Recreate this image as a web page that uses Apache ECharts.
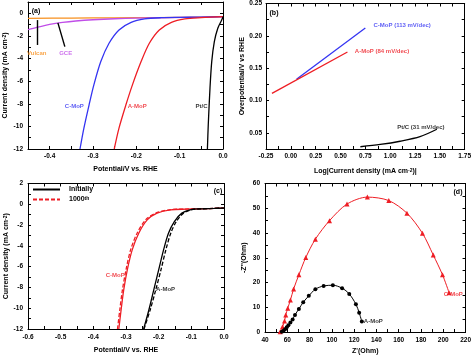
<!DOCTYPE html>
<html><head><meta charset="utf-8">
<script src="https://cdn.jsdelivr.net/npm/echarts@6/dist/echarts.min.js"></script>
<style>html,body{margin:0;padding:0;background:#fff}#c{width:474px;height:356px}</style>
</head><body><div id="c"></div>
<script>
// ===== Data =====
// Panel (a): polarization curves, potential (V vs RHE) vs current density (mA cm^-2)
const aVulcanX = [-0.45,-0.35,-0.25,-0.15,-0.05,0];
const aVulcanY = [-0.45,-0.42,-0.40,-0.38,-0.35,-0.30];
const aGceX = [-0.45,-0.43,-0.41,-0.39,-0.37,-0.34,-0.30,-0.25,-0.20,-0.12,-0.05,0];
const aGceY = [-1.45,-1.25,-1.07,-0.92,-0.80,-0.68,-0.57,-0.48,-0.43,-0.38,-0.35,-0.30];
const aCMoPX = [-0.330,-0.321,-0.309,-0.298,-0.282,-0.263,-0.240,-0.212,-0.181,-0.143,-0.10,-0.05,0];
const aCMoPY = [-12,-10.15,-8.09,-6.33,-4.27,-2.65,-1.47,-0.80,-0.50,-0.39,-0.36,-0.34,-0.30];
const aAMoPX = [-0.251,-0.240,-0.224,-0.209,-0.189,-0.170,-0.147,-0.119,-0.088,-0.050,0];
const aAMoPY = [-12,-10.15,-8.09,-6.33,-4.27,-2.65,-1.47,-0.80,-0.50,-0.39,-0.30];
const aPtCX = [-0.036,-0.034,-0.030,-0.026,-0.020,-0.012,-0.003,0];
const aPtCY = [-12,-9.86,-6.6,-4.27,-2.5,-1.32,-0.59,-0.30];

// Panel (b): Tafel plots, log|j| vs overpotential (V)
const bCMoPX = [0.057,0.75];
const bCMoPY = [0.133,0.212];
const bAMoPX = [-0.19,0.57];
const bAMoPY = [0.111,0.175];
const bPtCX = [0.70,0.90,1.10,1.30,1.47];
const bPtCY = [0.0285,0.032,0.037,0.044,0.0555];

// Panel (c): stability, initial vs after 1000 cycles
const cCMoPInitX = [-0.322,-0.315,-0.307,-0.296,-0.281,-0.261,-0.235,-0.205,-0.164,-0.114,-0.073,-0.03,0];
const cCMoPInitY = [-12,-10.17,-8.24,-6.31,-4.39,-2.78,-1.50,-0.85,-0.53,-0.47,-0.44,-0.40,-0.36];
const cCMoP1000X = [-0.326,-0.319,-0.311,-0.300,-0.286,-0.266,-0.240,-0.209,-0.168,-0.118,-0.073,-0.03,0];
const cCMoP1000Y = [-12,-10.17,-8.24,-6.31,-4.39,-2.78,-1.50,-0.85,-0.53,-0.46,-0.43,-0.40,-0.36];
const cAMoPInitX = [-0.246,-0.230,-0.215,-0.200,-0.185,-0.170,-0.152,-0.129,-0.104,-0.073,-0.03,0];
const cAMoPInitY = [-12,-10.17,-8.24,-6.31,-4.39,-2.78,-1.66,-0.85,-0.53,-0.44,-0.40,-0.36];
const cAMoP1000X = [-0.245,-0.226,-0.209,-0.193,-0.178,-0.163,-0.146,-0.124,-0.100,-0.072,-0.03,0];
const cAMoP1000Y = [-12,-10.17,-8.24,-6.31,-4.39,-2.78,-1.66,-0.85,-0.53,-0.44,-0.40,-0.36];

// Panel (d): Nyquist plots, Z' vs -Z'' (Ohm)
const dCMoPX = [53.6,55.7,57.5,58.6,60.4,62.8,65.7,70.4,76.6,85.2,97.9,113.6,131.9,151.1,167.4,181.3,191.0,199.3,205.2];
const dCMoPY = [0.1,2.1,4.4,6.9,9.6,12.9,17.4,23.1,30.1,37.5,45.0,51.7,54.5,53.1,48.0,39.9,31.1,23.1,15.9];
const dAMoPX = [55.1,56.6,58.0,59.5,61.0,62.8,64.8,66.9,70.4,74.3,79.3,85.2,92.6,100.9,109.2,115.6,121.6,124.5,126.9];
const dAMoPY = [0.1,0.5,1.1,1.9,2.7,3.8,5.1,6.9,9.3,12.0,14.6,17.3,18.6,18.9,17.7,15.4,11.2,7.8,4.2];

// ===== Chart =====
const F = '"Liberation Sans", Arial, Helvetica, sans-serif';
const RED = '#ee1d24', BLUE = '#3434f2', ORANGE = '#f7901e', PURPLE = '#c04ee8', BLACK = '#000';
const zip = (xs, ys) => xs.map((x, i) => [x, ys[i]]);

function lab(step, digits) {
  return function (v) {
    const k = v / step;
    if (Math.abs(k - Math.round(k)) > 1e-6) return '';
    const r = Math.round(k) * step;
    return (Math.abs(r) < 1e-9 ? 0 : r).toFixed(digits);
  };
}
const RICH = { s: { fontSize: 5, fontWeight: 'bold', fontFamily: F, color: '#000', verticalAlign: 'top', lineHeight: 7 } };

function axisPair(dim, g, c) {
  const base = {
    type: 'value', gridIndex: g, min: c.min, max: c.max, interval: c.interval,
    axisLine: { show: true, onZero: false, lineStyle: { color: '#000', width: 1 } },
    axisTick: { show: true, inside: true, length: 3, lineStyle: { color: '#000', width: 1 } },
    splitLine: { show: false }, minorTick: { show: false }
  };
  const main = Object.assign({}, base, {
    position: dim === 'x' ? 'bottom' : 'left',
    axisLabel: { show: true, formatter: lab(c.step, c.digits), fontSize: 6.5, fontWeight: 'bold', fontFamily: F,
      color: '#000', margin: c.margin || 5, showMinLabel: true, showMaxLabel: true, hideOverlap: false },
    name: c.name, nameLocation: 'middle', nameGap: c.gap,
    nameTextStyle: { fontSize: 7, fontWeight: c.weight || 'bold', fontFamily: F, color: '#000', rich: RICH }
  });
  const mirror = Object.assign({}, base, { position: dim === 'x' ? 'top' : 'right', axisLabel: { show: false } });
  return [main, mirror];
}

const xAxis = [].concat(
  axisPair('x', 0, { min: -0.45, max: 0, interval: 0.05, step: 0.1, digits: 1, name: 'Potential/V vs. RHE', gap: 17, margin: 4 }),
  axisPair('x', 1, { min: -0.25, max: 1.75, interval: 0.125, step: 0.25, digits: 2, name: 'Log|Current density (mA cm{s|-2})|', gap: 19, margin: 4 }),
  axisPair('x', 2, { min: -0.6, max: 0, interval: 0.05, step: 0.1, digits: 1, name: 'Potential/V vs. RHE', gap: 18, margin: 5 }),
  axisPair('x', 3, { min: 40, max: 220, interval: 10, step: 20, digits: 0, name: "Z'(Ohm)", gap: 16, margin: 5 })
);
const yAxis = [].concat(
  axisPair('y', 0, { min: -12, max: 1, interval: 1, step: 2, digits: 0, name: '{n|Current density (mA cm}{s|-2}{n|)}', gap: 19, margin: 5 }),
  axisPair('y', 1, { min: 0.025, max: 0.25, interval: 0.025, step: 0.05, digits: 2, name: 'Overpotential/V vs RHE', gap: 20, margin: 4 }),
  axisPair('y', 2, { min: -12, max: 2, interval: 1, step: 2, digits: 0, name: '{n|Current density (mA cm}{s|-2}{n|)}', gap: 18, margin: 5 }),
  axisPair('y', 3, { min: 0, max: 60, interval: 5, step: 10, digits: 0, name: "-Z''(Ohm)", gap: 17, margin: 5 })
);
yAxis[0].nameTextStyle.rich = Object.assign({ n: { fontSize: 7, fontWeight: 'bold', fontFamily: F, color: '#000' } }, RICH);
yAxis[4].nameTextStyle.rich = Object.assign({ n: { fontSize: 7, fontWeight: 'bold', fontFamily: F, color: '#000' } }, RICH);

function line(g, name, xs, ys, color, extra) {
  return Object.assign({
    type: 'line', name, xAxisIndex: 2 * g, yAxisIndex: 2 * g, data: zip(xs, ys),
    symbol: 'none', showSymbol: false, smooth: 0.3, silent: true, z: 3,
    lineStyle: { color, width: 1.3, type: 'solid' }, itemStyle: { color }
  }, extra || {});
}
function txt(g, x, y, text, color, pos, size) {
  return {
    type: 'scatter', xAxisIndex: 2 * g, yAxisIndex: 2 * g, data: [[x, y]], symbolSize: 0, silent: true, z: 5,
    label: { show: true, formatter: text, position: pos || 'inside', distance: 0, color,
      fontSize: size || 6, fontWeight: 'bold', fontFamily: F }
  };
}
function arrow(g, x1, y1, x2, y2) {
  return {
    type: 'line', xAxisIndex: 2 * g, yAxisIndex: 2 * g, data: [], silent: true,
    markLine: { silent: true, symbol: ['none', 'arrow'], symbolSize: [0, 6], animation: false,
      label: { show: false }, lineStyle: { color: '#000', width: 1.4, type: 'solid' },
      data: [[{ coord: [x1, y1] }, { coord: [x2, y2] }]] }
  };
}

const series = [
  // (a)
  line(0, 'Vulcan', aVulcanX, aVulcanY, ORANGE),
  line(0, 'GCE', aGceX, aGceY, PURPLE),
  line(0, 'C-MoP a', aCMoPX, aCMoPY, BLUE),
  line(0, 'A-MoP a', aAMoPX, aAMoPY, RED),
  line(0, 'Pt/C a', aPtCX, aPtCY, BLACK),
  arrow(0, -0.4295, -2.8, -0.4295, -0.6),
  arrow(0, -0.365, -2.95, -0.381, -0.85),
  txt(0, -0.430, -3.5, 'Vulcan', ORANGE),
  txt(0, -0.363, -3.5, 'GCE', PURPLE),
  txt(0, -0.343, -8.27, 'C-MoP', BLUE),
  txt(0, -0.198, -8.27, 'A-MoP', RED),
  txt(0, -0.0495, -8.27, 'Pt/C', BLACK),
  // (b)
  line(1, 'C-MoP b', bCMoPX, bCMoPY, BLUE, { smooth: false }),
  line(1, 'A-MoP b', bAMoPX, bAMoPY, RED, { smooth: false }),
  line(1, 'Pt/C b', bPtCX, bPtCY, BLACK),
  txt(1, 0.832, 0.2159, 'C-MoP (113 mV/dec)', BLUE, 'right'),
  txt(1, 0.644, 0.1765, 'A-MoP (84 mV/dec)', RED, 'right'),
  txt(1, 1.07, 0.0587, 'Pt/C (31 mV/dec)', BLACK, 'right'),
  // (c)
  line(2, 'C-MoP initial', cCMoPInitX, cCMoPInitY, RED),
  line(2, '1000th', cCMoP1000X, cCMoP1000Y, RED, { lineStyle: { color: RED, width: 1.3, type: [4, 2] } }),
  line(2, 'Initially', cAMoPInitX, cAMoPInitY, BLACK),
  line(2, 'A-MoP 1000th', cAMoP1000X, cAMoP1000Y, BLACK, { lineStyle: { color: BLACK, width: 1.3, type: [4, 2] } }),
  txt(2, -0.362, -6.84, 'C-MoP', RED, 'right'),
  txt(2, -0.208, -8.22, 'A-MoP', BLACK, 'right'),
  // (d)
  line(3, 'C-MoP d', dCMoPX, dCMoPY, RED, { symbol: 'triangle', showSymbol: true, symbolSize: 5, lineStyle: { color: RED, width: 1 } }),
  line(3, 'A-MoP d', dAMoPX, dAMoPY, BLACK, { symbol: 'circle', showSymbol: true, symbolSize: 4, lineStyle: { color: BLACK, width: 1 } }),
  txt(3, 200.5, 15.4, 'C-MoP', RED, 'right'),
  txt(3, 128.7, 4.2, 'A-MoP', BLACK, 'right')
];

const chart = echarts.init(document.getElementById('c'), null, { renderer: 'canvas' });
chart.setOption({
  animation: false,
  backgroundColor: '#fff',
  grid: [
    { left: 28, top: 2, width: 195, height: 147 },
    { left: 266, top: 2, width: 202, height: 147 },
    { left: 28, top: 183.5, width: 196, height: 145.5 },
    { left: 265, top: 183.5, width: 203, height: 148.5 }
  ],
  xAxis, yAxis, series,
  legend: {
    show: true, data: ['Initially', '1000th'], orient: 'vertical', left: 32, top: 186, padding: 0,
    itemWidth: 27, itemHeight: 8, itemGap: 3, selectedMode: false,
    itemStyle: { opacity: 0, borderWidth: 0 },
    formatter: n => (n === '1000th' ? '1000{s|th}' : n),
    textStyle: { fontSize: 7, fontWeight: 'bold', fontFamily: F, color: '#000', padding: [0, 0, 0, 4], rich: RICH }
  },
  graphic: [
    { type: 'text', x: 36, y: 11, style: { text: '(a)', fill: '#000', font: 'bold 7px ' + F, align: 'center', verticalAlign: 'middle' } },
    { type: 'text', x: 274, y: 13, style: { text: '(b)', fill: '#000', font: 'bold 7px ' + F, align: 'center', verticalAlign: 'middle' } },
    { type: 'text', x: 218, y: 191.5, style: { text: '(c)', fill: '#000', font: 'bold 7px ' + F, align: 'center', verticalAlign: 'middle' } },
    { type: 'text', x: 458, y: 192, style: { text: '(d)', fill: '#000', font: 'bold 7px ' + F, align: 'center', verticalAlign: 'middle' } }
  ]
});
</script></body></html>
